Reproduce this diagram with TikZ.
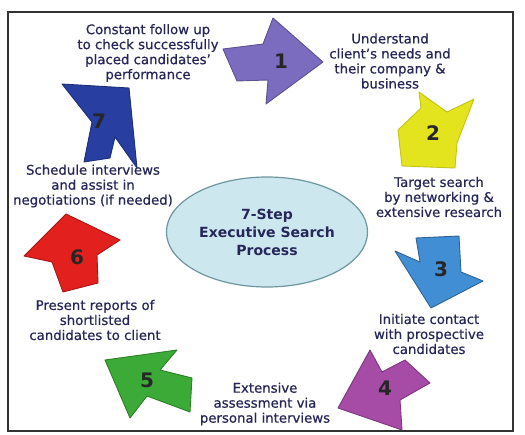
\documentclass[tikz,border=0pt]{standalone}
\usepackage{fontspec}
\setmainfont{DejaVu Sans}
\newfontfamily\lblfont{DejaVu Sans}[Ligatures=TeX, FakeBold=0.6]
\usetikzlibrary{shapes.geometric}
\definecolor{cText}{RGB}{38,38,88}
\definecolor{cCore}{RGB}{204,232,238}
\definecolor{cCoreLine}{RGB}{110,150,160}
\definecolor{cOne}{RGB}{124,108,192}
\definecolor{cTwo}{RGB}{228,228,30}
\definecolor{cThree}{RGB}{66,142,212}
\definecolor{cFour}{RGB}{166,76,166}
\definecolor{cFive}{RGB}{60,170,55}
\definecolor{cSix}{RGB}{226,32,30}
\definecolor{cSeven}{RGB}{40,62,160}

\tikzset{
  steplabel/.style={align=center, text=cText, inner sep=0pt,
    font=\lblfont\fontsize{13.3}{15}\selectfont},
  stepnum/.style={text=black!85, font=\fontsize{20}{20}\selectfont\bfseries},
  blockarrow/.style={line width=0.9pt, line join=round},
}

\begin{document}
\begin{tikzpicture}[x=1pt, y=-1pt]
  \useasboundingbox (0,0) rectangle (525,435);
  \draw[line width=1.4pt, draw=black!80] (8,12) rectangle (513,431);

  \node[ellipse, draw=cCoreLine, fill=cCore, line width=1.2pt,
    minimum width=192pt, minimum height=110pt, align=center, text=cText,
    font=\fontsize{14}{18}\selectfont\bfseries] (core) at (267,232)
    {7-Step\\Executive Search\\Process};

  % the seven arrows
  \draw[blockarrow, fill=cOne, draw=cOne!75!black]
    (223,49) -- (263,44) -- (273,18) -- (323,62) -- (266,104) -- (268,80) -- (237,81) -- cycle;
  \draw[blockarrow, fill=cTwo, draw=cTwo!85!black]
    (402,166) -- (455,168) -- (457,143) -- (474,99) -- (447,112) -- (419,92) -- (421,108) -- (398,130) -- cycle;
  \draw[blockarrow, fill=cThree, draw=cThree!70!black]
    (395,251) -- (420,262) -- (416,238) -- (459,236) -- (461,272) -- (483,281) -- (431,308) -- cycle;
  \draw[blockarrow, fill=cFour, draw=cFour!75!black]
    (370,350) -- (382,372) -- (405,360) -- (430,383) -- (400,400) -- (402,430) -- (338,408) -- cycle;
  \draw[blockarrow, fill=cFive, draw=cFive!75!black]
    (105,360) -- (177,350) -- (160,370) -- (192,378) -- (190,412) -- (147,396) -- (130,418) -- cycle;
  \draw[blockarrow, fill=cSix, draw=cSix!75!black]
    (66,214) -- (120,240) -- (97,255) -- (98,283) -- (63,292) -- (52,262) -- (24,256) -- cycle;
  \draw[blockarrow, fill=cSeven, draw=cSeven!75!black]
    (62,84) -- (129,88) -- (137,168) -- (115,137) -- (110,158) -- (84,162) -- (92,122) -- cycle;

  \node[stepnum] (n1) at (281,61) {1};
  \node[stepnum] (n2) at (433,133) {2};
  \node[stepnum] (n3) at (441,269) {3};
  \node[stepnum] (n4) at (385,388) {4};
  \node[stepnum] (n5) at (147,380) {5};
  \node[stepnum] (n6) at (77,257) {6};
  \node[stepnum] (n7) at (99,121) {7};

  % step texts
  \node[steplabel] (lab1) at (390,61) {Understand\\client's needs and\\their company \&\\business};
  \node[steplabel] (lab2) at (439,197) {Target search\\by networking \&\\extensive research};
  \node[steplabel] (lab3) at (429,334) {Initiate contact\\with prospective\\candidates};
  \node[steplabel] (lab4) at (265,404) {Extensive\\assessment via\\personal interviews};
  \node[steplabel] (lab5) at (95,320) {Present reports of\\shortlisted\\candidates to client};
  \node[steplabel] (lab6) at (93,186) {Schedule interviews\\and assist in\\negotiations (if needed)};
  \node[steplabel] (lab7) at (148,53) {Constant follow up\\to check successfully\\placed candidates'\\performance};
\end{tikzpicture}
\end{document}
